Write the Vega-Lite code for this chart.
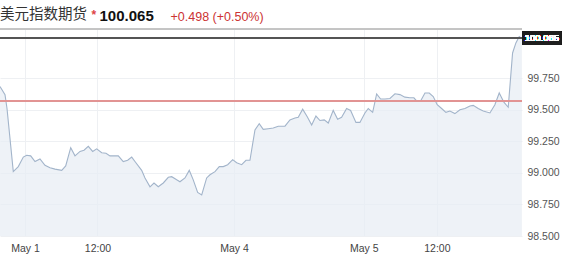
{
  "$schema": "https://vega.github.io/schema/vega-lite/v6.json",
  "width": 522,
  "height": 207,
  "autosize": {"type": "none"},
  "padding": {"top": 29, "left": 0, "right": 45, "bottom": 23},
  "background": "white",
  "title": {
    "text": "美元指数期货",
    "anchor": "start",
    "frame": "group",
    "font": "Noto Sans CJK SC",
    "fontSize": 14.5,
    "fontWeight": "normal",
    "color": "#333333",
    "baseline": "alphabetic",
    "offset": 9,
    "dy": 34
  },
  "config": {
    "view": {"stroke": null},
    "axis": {"labelFont": "Liberation Sans", "titleFont": "Liberation Sans"}
  },
  "data": {
    "values": [
      {"h": -4.14, "v": 99.685}, {"h": -3.31, "v": 99.62}, {"h": -2.98, "v": 99.51}, {"h": -1.94, "v": 99.01},
      {"h": -1.11, "v": 99.05}, {"h": -0.28, "v": 99.125}, {"h": 0.28, "v": 99.14}, {"h": 0.94, "v": 99.135},
      {"h": 1.66, "v": 99.09}, {"h": 2.48, "v": 99.11}, {"h": 3.31, "v": 99.06}, {"h": 4.14, "v": 99.04},
      {"h": 4.97, "v": 99.03}, {"h": 6.08, "v": 99.02}, {"h": 6.74, "v": 99.055}, {"h": 7.57, "v": 99.2},
      {"h": 8.28, "v": 99.135}, {"h": 9.11, "v": 99.17}, {"h": 9.77, "v": 99.18}, {"h": 10.48, "v": 99.21},
      {"h": 11.21, "v": 99.17}, {"h": 11.87, "v": 99.19}, {"h": 12.7, "v": 99.16}, {"h": 13.41, "v": 99.155},
      {"h": 14.07, "v": 99.135}, {"h": 15.45, "v": 99.135}, {"h": 16.27, "v": 99.09}, {"h": 17.0, "v": 99.1},
      {"h": 17.67, "v": 99.125}, {"h": 18.21, "v": 99.09}, {"h": 19.32, "v": 99.02}, {"h": 19.87, "v": 98.96},
      {"h": 20.7, "v": 98.89}, {"h": 21.36, "v": 98.92}, {"h": 22.07, "v": 98.89}, {"h": 22.9, "v": 98.92},
      {"h": 23.73, "v": 98.965}, {"h": 24.29, "v": 98.97}, {"h": 25.12, "v": 98.945}, {"h": 25.66, "v": 98.93},
      {"h": 26.49, "v": 98.96}, {"h": 27.2, "v": 99.02}, {"h": 27.86, "v": 98.945}, {"h": 28.59, "v": 98.845},
      {"h": 29.26, "v": 98.825}, {"h": 30.08, "v": 98.96}, {"h": 30.63, "v": 98.985}, {"h": 31.46, "v": 99.01},
      {"h": 32.17, "v": 99.05}, {"h": 32.83, "v": 99.05}, {"h": 33.56, "v": 99.065}, {"h": 34.39, "v": 99.105},
      {"h": 35.05, "v": 99.08}, {"h": 35.88, "v": 99.065}, {"h": 36.59, "v": 99.1}, {"h": 37.25, "v": 99.1},
      {"h": 38.08, "v": 99.34}, {"h": 38.79, "v": 99.39}, {"h": 39.45, "v": 99.345}, {"h": 40.28, "v": 99.35},
      {"h": 41.11, "v": 99.355}, {"h": 41.94, "v": 99.37}, {"h": 43.05, "v": 99.37}, {"h": 43.87, "v": 99.42},
      {"h": 44.7, "v": 99.435}, {"h": 45.25, "v": 99.44}, {"h": 45.98, "v": 99.505}, {"h": 46.74, "v": 99.445},
      {"h": 47.47, "v": 99.38}, {"h": 48.18, "v": 99.45}, {"h": 48.84, "v": 99.415}, {"h": 49.55, "v": 99.42},
      {"h": 50.22, "v": 99.395}, {"h": 51.04, "v": 99.495}, {"h": 51.77, "v": 99.425}, {"h": 52.43, "v": 99.44},
      {"h": 53.26, "v": 99.51}, {"h": 53.92, "v": 99.495}, {"h": 54.8, "v": 99.4}, {"h": 55.46, "v": 99.4},
      {"h": 56.29, "v": 99.475}, {"h": 56.84, "v": 99.51}, {"h": 57.57, "v": 99.48}, {"h": 58.23, "v": 99.625},
      {"h": 58.89, "v": 99.585}, {"h": 59.6, "v": 99.585}, {"h": 60.43, "v": 99.59}, {"h": 61.26, "v": 99.627},
      {"h": 62.09, "v": 99.62}, {"h": 62.91, "v": 99.6}, {"h": 63.74, "v": 99.595}, {"h": 64.4, "v": 99.595},
      {"h": 64.85, "v": 99.57}, {"h": 65.51, "v": 99.57}, {"h": 66.23, "v": 99.633}, {"h": 66.94, "v": 99.633},
      {"h": 67.6, "v": 99.605}, {"h": 68.26, "v": 99.54}, {"h": 68.99, "v": 99.51}, {"h": 69.7, "v": 99.48},
      {"h": 70.36, "v": 99.49}, {"h": 71.19, "v": 99.47}, {"h": 72.02, "v": 99.5}, {"h": 72.85, "v": 99.51},
      {"h": 73.68, "v": 99.53}, {"h": 74.22, "v": 99.535}, {"h": 75.05, "v": 99.51}, {"h": 75.88, "v": 99.49},
      {"h": 76.99, "v": 99.475}, {"h": 77.81, "v": 99.54}, {"h": 78.53, "v": 99.633}, {"h": 79.3, "v": 99.56},
      {"h": 80.02, "v": 99.52}, {"h": 80.74, "v": 99.95}, {"h": 81.29, "v": 100.03}, {"h": 81.84, "v": 100.08},
      {"h": 82.28, "v": 100.065}
    ]
  },
  "layer": [
    {
      "mark": {"type": "area", "color": "#e7ecf4", "line": {"color": "#a2b4ca", "strokeWidth": 1.1}, "interpolate": "linear"},
      "encoding": {
        "x": {
          "field": "h", "type": "quantitative",
          "scale": {"domain": [-4.14, 82.3], "nice": false, "zero": false},
          "axis": {
            "values": [0, 12, 34.6, 56.1, 68.2],
            "labelExpr": "datum.value == 0 ? 'May 1' : datum.value == 12 ? '12:00' : datum.value == 34.6 ? 'May 4' : datum.value == 56.1 ? 'May 5' : '12:00'",
            "labelFlush": false,
            "labelFontSize": 10.5,
            "labelColor": "#444444",
            "labelPadding": 7,
            "ticks": false,
            "domain": false,
            "grid": true,
            "gridColor": "#eef0f3",
            "title": "100.065",
            "titleX": 99,
            "titleY": -216,
            "titleAlign": "left",
            "titleBaseline": "alphabetic",
            "titleAngle": 0,
            "titleFontSize": 15,
            "titleFontWeight": "bold",
            "titleColor": "#111111"
          }
        },
        "y": {
          "field": "v", "type": "quantitative",
          "scale": {"domain": [98.5, 100.14], "nice": false, "zero": false},
          "axis": {
            "orient": "right",
            "values": [98.5, 98.75, 99, 99.25, 99.5, 99.75],
            "format": ".3f",
            "labelFontSize": 10.5,
            "labelColor": "#555555",
            "labelPadding": 5,
            "ticks": false,
            "domain": false,
            "grid": true,
            "gridColor": "#eef0f3",
            "title": "+0.498  (+0.50%)",
            "titleX": -352,
            "titleY": -9,
            "titleAlign": "left",
            "titleBaseline": "alphabetic",
            "titleAngle": 0,
            "titleFontSize": 12.5,
            "titleFontWeight": "normal",
            "titleColor": "#cc3333"
          }
        },
        "y2": {"datum": 98.5}
      }
    },
    {
      "mark": {"type": "rule", "color": "#c4c4c4", "strokeWidth": 1},
      "encoding": {
        "y": {
          "datum": 100.14, "type": "quantitative",
          "axis": {
            "orient": "left",
            "labels": false,
            "ticks": false,
            "domain": false,
            "grid": false,
            "title": "*",
            "titleX": 91,
            "titleY": -11,
            "titleAlign": "left",
            "titleBaseline": "alphabetic",
            "titleAngle": 0,
            "titleFontSize": 12,
            "titleFontWeight": "bold",
            "titleColor": "#dd4444"
          }
        }
      }
    },
    {
      "mark": {"type": "rule", "color": "#e09593", "strokeWidth": 1},
      "encoding": {"y": {"datum": 99.567, "type": "quantitative", "axis": null}}
    },
    {
      "mark": {"type": "rule", "color": "#555555", "strokeWidth": 1.2},
      "encoding": {"y": {"datum": 100.065, "type": "quantitative", "axis": null}}
    },
    {
      "mark": {"type": "rect", "color": "#1e1e1e", "clip": false},
      "encoding": {
        "x": {"datum": 82.4, "type": "quantitative"},
        "x2": {"datum": 88.8},
        "y": {"datum": 100.014, "type": "quantitative", "axis": null},
        "y2": {"datum": 100.118}
      }
    },
    {
      "mark": {"type": "text", "color": "white", "font": "Liberation Sans", "fontSize": 9.5, "align": "center", "baseline": "middle", "clip": false},
      "encoding": {
        "x": {"datum": 85.6, "type": "quantitative"},
        "y": {"datum": 100.065, "type": "quantitative", "axis": null},
        "text": {"value": "100.065"}
      }
    }
  ],
  "resolve": {"axis": {"y": "independent"}}
}
